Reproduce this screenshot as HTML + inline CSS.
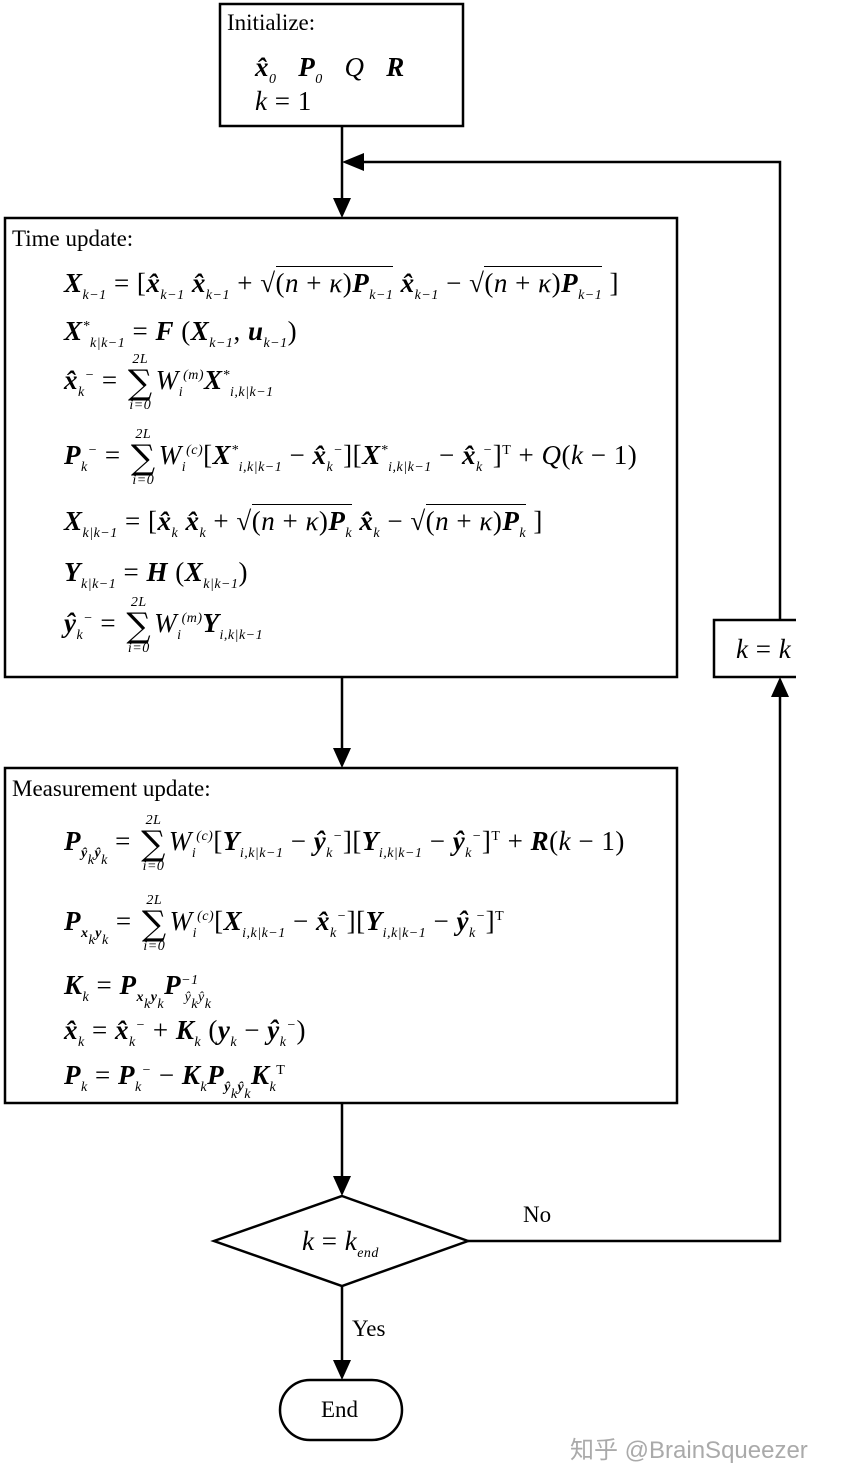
<!DOCTYPE html>
<html><head><meta charset="utf-8"><style>
body{margin:0;width:846px;height:1483px;background:#fff;position:relative;overflow:hidden;font-family:"Liberation Serif",serif;color:#000}
.f{position:absolute;font-size:27px;white-space:nowrap;line-height:1;letter-spacing:0.5px}
.l{position:absolute;font-size:23px;white-space:nowrap}
.v{font-weight:bold;font-style:italic}
i{font-style:italic}
sub,sup{font-size:14px;font-style:italic;font-weight:normal}
sub{vertical-align:-7px}sup{vertical-align:10px}
.s{display:inline-block;vertical-align:middle;text-align:center;line-height:1;font-size:14px;font-style:italic;margin:0 3px}
.s b{display:block;font-family:"DejaVu Serif",serif;font-size:34px;font-weight:normal;font-style:normal;line-height:32px}
.sq{border-top:1.5px solid #000;padding-top:1px}
</style></head><body>
<svg width="846" height="1483" style="position:absolute;left:0;top:0">
<g fill="none" stroke="#000" stroke-width="2.5">
<rect x="220" y="4" width="243" height="122"/>
<rect x="5" y="218" width="672" height="459"/>
<rect x="5" y="768" width="672" height="335"/>
<polygon points="342,1196 468,1241 342,1286 214,1241"/>
<rect x="280" y="1380" width="122" height="60" rx="30"/>
<path d="M714,677 V620 H796 M714,620 V677 H796"/>
<path d="M342,126 V200 M342,677 V750 M342,1103 V1178 M342,1286 V1362"/>
<path d="M468,1241 H780 V695 M780,620 V162 H362"/>
</g>
<g fill="#000">
<polygon points="333,198 351,198 342,218"/>
<polygon points="333,748 351,748 342,768"/>
<polygon points="333,1176 351,1176 342,1196"/>
<polygon points="333,1360 351,1360 342,1380"/>
<polygon points="771,697 789,697 780,677"/>
<polygon points="364,153 364,171 342,162"/>
</g>
</svg>
<div class="l" style="left:227px;top:10px">Initialize:</div>
<div class="f" style="left:255px;top:54px"><span class="v">x̂</span><sub>0</sub>&nbsp;&nbsp;&nbsp;<span class="v">P</span><sub>0</sub>&nbsp;&nbsp;&nbsp;<i>Q</i>&nbsp;&nbsp;&nbsp;<span class="v">R</span></div>
<div class="f" style="left:255px;top:88px"><i>k</i> = 1</div>

<div class="l" style="left:12px;top:226px">Time update:</div>
<div class="f" style="left:64px;top:270px"><span class="v">X</span><sub>k−1</sub> = [<span class="v">x̂</span><sub>k−1</sub> <span class="v">x̂</span><sub>k−1</sub> + √<span class="sq">(<i>n</i> + <i>κ</i>)<span class="v">P</span><sub>k−1</sub></span> <span class="v">x̂</span><sub>k−1</sub> − √<span class="sq">(<i>n</i> + <i>κ</i>)<span class="v">P</span><sub>k−1</sub></span>&nbsp;]</div>
<div class="f" style="left:64px;top:318px"><span class="v">X</span><sup>*</sup><sub>k|k−1</sub> = <span class="v">F</span> (<span class="v">X</span><sub>k−1</sub>, <span class="v">u</span><sub>k−1</sub>)</div>
<div class="f" style="left:64px;top:353px"><span class="v">x̂</span><sub>k</sub><sup>−</sup> = <span class="s">2<i>L</i><b>∑</b><i>i</i>=0</span><i>W</i><sub>i</sub><sup>(m)</sup><span class="v">X</span><sup>*</sup><sub>i,k|k−1</sub></div>
<div class="f" style="left:64px;top:428px"><span class="v">P</span><sub>k</sub><sup>−</sup> = <span class="s">2<i>L</i><b>∑</b><i>i</i>=0</span><i>W</i><sub>i</sub><sup>(c)</sup>[<span class="v">X</span><sup>*</sup><sub>i,k|k−1</sub> − <span class="v">x̂</span><sub>k</sub><sup>−</sup>][<span class="v">X</span><sup>*</sup><sub>i,k|k−1</sub> − <span class="v">x̂</span><sub>k</sub><sup>−</sup>]<sup style="font-style:normal">T</sup> + <i>Q</i>(<i>k</i> − 1)</div>
<div class="f" style="left:64px;top:508px"><span class="v">X</span><sub>k|k−1</sub> = [<span class="v">x̂</span><sub>k</sub> <span class="v">x̂</span><sub>k</sub> + √<span class="sq">(<i>n</i> + <i>κ</i>)<span class="v">P</span><sub>k</sub></span> <span class="v">x̂</span><sub>k</sub> − √<span class="sq">(<i>n</i> + <i>κ</i>)<span class="v">P</span><sub>k</sub></span>&nbsp;]</div>
<div class="f" style="left:64px;top:559px"><span class="v">Y</span><sub>k|k−1</sub> = <span class="v">H</span> (<span class="v">X</span><sub>k|k−1</sub>)</div>
<div class="f" style="left:64px;top:596px"><span class="v">ŷ</span><sub>k</sub><sup>−</sup> = <span class="s">2<i>L</i><b>∑</b><i>i</i>=0</span><i>W</i><sub>i</sub><sup>(m)</sup><span class="v">Y</span><sub>i,k|k−1</sub></div>

<div class="l" style="left:12px;top:776px">Measurement update:</div>
<div class="f" style="left:64px;top:814px"><span class="v">P</span><sub style="font-weight:bold">ŷ<sub>k</sub>ŷ<sub>k</sub></sub> = <span class="s">2<i>L</i><b>∑</b><i>i</i>=0</span><i>W</i><sub>i</sub><sup>(c)</sup>[<span class="v">Y</span><sub>i,k|k−1</sub> − <span class="v">ŷ</span><sub>k</sub><sup>−</sup>][<span class="v">Y</span><sub>i,k|k−1</sub> − <span class="v">ŷ</span><sub>k</sub><sup>−</sup>]<sup style="font-style:normal">T</sup> + <span class="v">R</span>(<i>k</i> − 1)</div>
<div class="f" style="left:64px;top:894px"><span class="v">P</span><sub style="font-weight:bold">x<sub>k</sub>y<sub>k</sub></sub> = <span class="s">2<i>L</i><b>∑</b><i>i</i>=0</span><i>W</i><sub>i</sub><sup>(c)</sup>[<span class="v">X</span><sub>i,k|k−1</sub> − <span class="v">x̂</span><sub>k</sub><sup>−</sup>][<span class="v">Y</span><sub>i,k|k−1</sub> − <span class="v">ŷ</span><sub>k</sub><sup>−</sup>]<sup style="font-style:normal">T</sup></div>
<div class="f" style="left:64px;top:972px"><span class="v">K</span><sub>k</sub> = <span class="v">P</span><sub style="font-weight:bold">x<sub>k</sub>y<sub>k</sub></sub><span class="v">P</span><sup>−1</sup><sub style="margin-left:-14px">ŷ<sub>k</sub>ŷ<sub>k</sub></sub></div>
<div class="f" style="left:64px;top:1017px"><span class="v">x̂</span><sub>k</sub> = <span class="v">x̂</span><sub>k</sub><sup>−</sup> + <span class="v">K</span><sub>k</sub> (<span class="v">y</span><sub>k</sub> − <span class="v">ŷ</span><sub>k</sub><sup>−</sup>)</div>
<div class="f" style="left:64px;top:1062px"><span class="v">P</span><sub>k</sub> = <span class="v">P</span><sub>k</sub><sup>−</sup> − <span class="v">K</span><sub>k</sub><span class="v">P</span><sub style="font-weight:bold">ŷ<sub>k</sub>ŷ<sub>k</sub></sub><span class="v">K</span><sub>k</sub><sup style="font-style:normal">T</sup></div>

<div class="f" style="left:736px;top:636px"><i>k</i> = <i>k</i></div>
<div class="f" style="left:302px;top:1228px"><i>k</i> = <i>k</i><sub>end</sub></div>
<div class="l" style="left:523px;top:1202px">No</div>
<div class="l" style="left:352px;top:1316px">Yes</div>
<div class="l" style="left:321px;top:1397px">End</div>
<div style="position:absolute;left:570px;top:1430px;font-family:'Liberation Sans','Noto Sans CJK SC',sans-serif;font-size:24px;color:#aaa">知乎 @BrainSqueezer</div>
</body></html>
